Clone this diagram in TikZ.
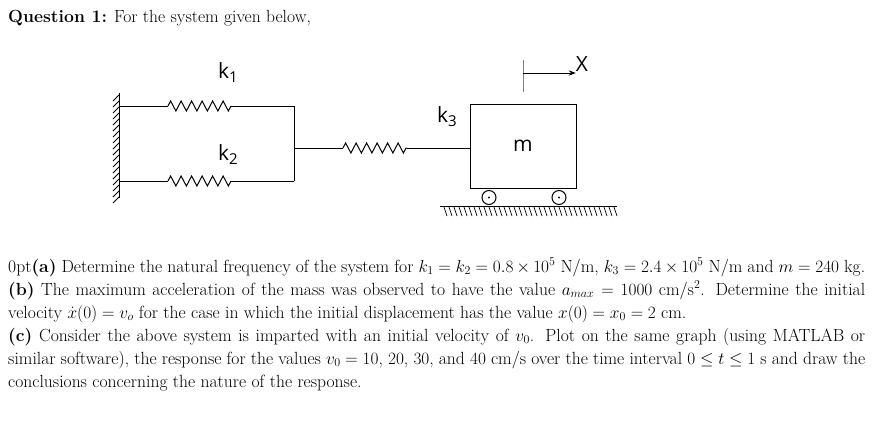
\documentclass[tikz,border=0pt]{standalone}
\usepackage{fontspec}
\newfontfamily\diag{Open Sans}
\usetikzlibrary{decorations.pathmorphing,patterns,arrows.meta}
\newcommand\ksub[1]{\raisebox{-4pt}{\fontsize{15}{18}\selectfont #1}}
\tikzset{
  wire/.style={line width=1pt},
  spring/.style={line width=1pt,decorate,decoration={zigzag,segment length=10.5pt,amplitude=5pt}},
  lbl/.style={font=\diag\fontsize{21}{24}\selectfont,inner sep=0pt},
  txt/.style={font=\fontsize{17.6}{23}\selectfont\lineskiplimit=-10pt,inner sep=0pt,align=justify,text width=857pt}
}
\begin{document}
\begin{tikzpicture}[x=1pt,y=-1pt]
\useasboundingbox[fill=white] (0,0) rectangle (879,447);
% title
\node[anchor=west,inner sep=0pt,font=\fontsize{17.6}{20}\selectfont] (title) at (8,18) {\textbf{Question 1:} For the system given below,};
% wall
\coordinate (wt) at (119,93); \coordinate (wb) at (119,198);
\draw[wire] (wt) -- (wb);
\foreach \y in {95,101,...,197} \draw[line width=0.8pt] (119,\y) -- (113,\y+6);
% k1
\coordinate (w1) at (119,106); \coordinate (s1a) at (168,106); \coordinate (s1b) at (231,106); \coordinate (r1) at (294,106);
\draw[wire] (w1) -- (s1a); \draw[spring] (s1a) -- (s1b); \draw[wire] (s1b) -- (r1);
% k2
\coordinate (w2) at (119,181); \coordinate (s2a) at (168,181); \coordinate (s2b) at (231,181); \coordinate (r2) at (294,181);
\draw[wire] (w2) -- (s2a); \draw[spring] (s2a) -- (s2b); \draw[wire] (s2b) -- (r2);
\draw[wire] (r1) -- (r2);
% k3
\coordinate (r3) at (294,148); \coordinate (s3a) at (343,148); \coordinate (s3b) at (407,148);
\node[draw,line width=1pt,minimum width=106pt,minimum height=84pt,inner sep=0pt] (mass) at (523,146) {};
\node[lbl] (m) at (mass.center) {m};
\draw[wire] (r3) -- (s3a); \draw[spring] (s3a) -- (s3b); \draw[wire] (s3b) -- (mass.west |- r3);
% labels
\node[lbl] (k1) at (228,73) {k\ksub{1}};
\node[lbl] (k2) at (228,155) {k\ksub{2}};
\node[lbl] (k3) at (447,117) {k\ksub{3}};
% wheels
\node[draw,circle,line width=1pt,minimum size=14pt,inner sep=0pt] (wh1) at (489,197.5) {};
\node[draw,circle,line width=1pt,minimum size=14pt,inner sep=0pt] (wh2) at (559,197.5) {};
\fill (wh1.center) circle (1.2); \fill (wh2.center) circle (1.2);
% ground
\coordinate (ga) at (440,206); \coordinate (gb) at (617,206);
\draw[wire] (ga) -- (gb);
\foreach \x in {444,449,...,614} \draw[line width=0.7pt] (\x,207) -- (\x+3,216);
% x arrow
\coordinate (xt) at (523,60); \coordinate (xb) at (523,92); \coordinate (xa) at (523,73);
\draw[line width=0.8pt,gray] (xt) -- (xb);
\node[lbl] (X) at (582,64) {X};
\draw[line width=0.8pt,-{Stealth[length=7pt]}] (xa) -- (X.west |- xa);
% text
\node[txt,anchor=north west] (body) at (8,258) {\textbf{(a)} Determine the natural frequency of the system for $k_1=k_2=0.8\times10^5$ N/m, $k_3=2.4\times10^5$ N/m and $m=240$ kg.\\
\textbf{(b)} The maximum acceleration of the mass was observed to have the value $a_{max}=1000$ cm/s$^2$. Determine the initial velocity $\dot x(0)=v_o$ for the case in which the initial displacement has the value $x(0)=x_0=2$ cm.\\
\textbf{(c)} Consider the above system is imparted with an initial velocity of $v_0$. Plot on the same graph (using MATLAB or similar software), the response for the values $v_0=10$, $20$, $30$, and $40$ cm/s over the time interval $0\le t\le1$ s and draw the conclusions concerning the nature of the response.};
\end{tikzpicture}
\end{document}
